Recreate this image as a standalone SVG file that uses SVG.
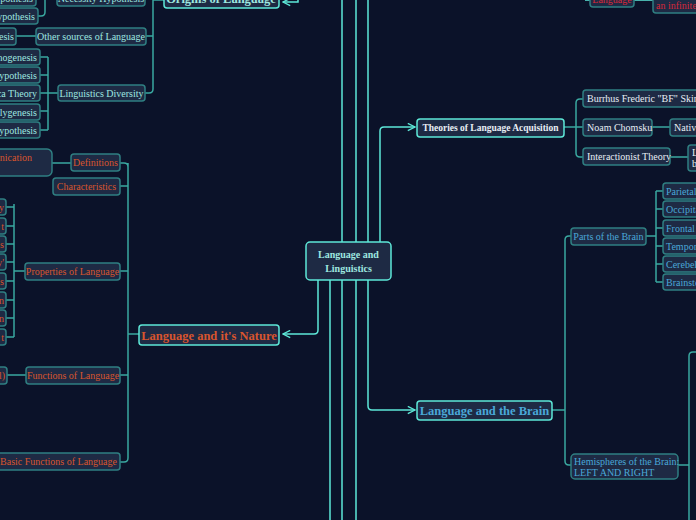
<svg xmlns="http://www.w3.org/2000/svg" width="696" height="520" viewBox="0 0 696 520">
<style>
.bg{fill:#0b1229}
.n{fill:#1e2a44;stroke:#2f7f82;stroke-width:1.5}
.m{fill:#1e2a44;stroke:#5ee8d8;stroke-width:1.5}
.c{fill:none;stroke:#5ee8d8;stroke-width:1.5}
.cd{fill:none;stroke:#3aa8a0;stroke-width:1.5}
text{font-family:"Liberation Serif",serif;font-size:10px}
text.big{font-size:12.500px;font-weight:bold}
.t{fill:#9fe8e0}
.o{fill:#d9552e}
.b{fill:#4aa8d8}
.w{fill:#e8eef5}
.r{fill:#d8283a}
</style>
<defs><marker id="a" viewBox="0 0 10 10" refX="9" refY="5" markerWidth="6" markerHeight="6" orient="auto-start-reverse"><path d="M1,1 L9,5 L1,9" fill="none" stroke="#5ee8d8" stroke-width="1.5"/></marker></defs>
<rect class="bg" width="696" height="520"/>
<g id="connectors">
<path class="c" d="M330,280V520 M342,0V242 M342,280V520 M356,0V242 M356,280V520 M368,0V242"/>
<path class="c" d="M380,242V131Q380,127 384,127H415" marker-end="url(#a)"/>
<path class="c" d="M368,280V406Q368,410 372,410H415" marker-end="url(#a)"/>
<path class="c" d="M318,280V330Q318,334 314,334H283" marker-end="url(#a)"/>
<path class="c" d="M298,0V2H283" marker-end="url(#a)"/>
<path class="cd" d="M139,334H128 M128,163V458Q128,462 124,462H120 M128,167Q128,163 124,163H120 M128,186H120 M128,271H120 M128,375H120 M52,163H71"/>
<path class="cd" d="M25,271H14 M14,204V337 M14,207H6 M14,226H6 M14,244H6 M14,262H6 M14,281H6 M14,300H6 M14,318H6 M14,337H6 M26,375H7"/>
<path class="cd" d="M164,0H153V89Q153,93 149,93H145 M153,36H146 M36,36H16 M45,0V12Q45,16 41,16H38 M58,93H48 M48,57V130 M48,57H40 M48,75H40 M48,93H40 M48,111H40 M48,130H40"/>
<path class="cd" d="M564,127H576 M576,103Q576,99 580,99H583 M576,103V153Q576,157 580,157H583 M576,127H583 M652,127H670 M670,157H688"/>
<path class="cd" d="M552,410H565 M565,240Q565,236 569,236H571 M565,240V461Q565,465 569,465H571 M646,236H656 M656,191V282 M656,191H663 M656,209H663 M656,228H663 M656,246H663 M656,264H663 M656,282H663 M678,465H689 M689,356Q689,352 693,352H696 M689,356V520"/>
<path class="c" d="M585,0H590 M634,0H653"/>
</g>
<g id="center"><rect class="m" x="306" y="242" width="85" height="38" rx="4"/><text class="t" x="348.500" y="258" text-anchor="middle" font-weight="bold">Language and</text><text class="t" x="348.500" y="272" text-anchor="middle" font-weight="bold">Linguistics</text></g>
<g id="origins"><rect class="m" x="164" y="-10" width="115" height="18" rx="3"/><text class="t big" x="221" y="3" text-anchor="middle">Origins of Language</text></g>
<g id="necessity"><rect class="n" x="57" y="-10" width="88" height="16" rx="3"/><text class="t" x="101" y="2" text-anchor="middle">Necessity Hypothesis</text></g>
<g id="n1"><rect class="n" x="-5" y="-10" width="41" height="16" rx="3"/><text class="t" x="33" y="2" text-anchor="end">ypothesis</text></g>
<g id="n2"><rect class="n" x="-5" y="8" width="43" height="16" rx="3"/><text class="t" x="35" y="20" text-anchor="end">ypothesis</text></g>
<g id="other"><rect class="n" x="36" y="28" width="110" height="17" rx="3"/><text class="t" x="91" y="40" text-anchor="middle">Other sources of Language</text></g>
<g id="o1"><rect class="n" x="-5" y="28" width="21" height="17" rx="3"/><text class="t" x="14" y="40" text-anchor="end">esis</text></g>
<g id="diversity"><rect class="n" x="58" y="85" width="87" height="16" rx="3"/><text class="t" x="101.500" y="97" text-anchor="middle">Linguistics Diversity</text></g>
<g id="d1"><rect class="n" x="-5" y="49" width="45" height="16" rx="3"/><text class="t" x="37" y="61" text-anchor="end">nogenesis</text></g>
<g id="d2"><rect class="n" x="-5" y="67" width="45" height="16" rx="3"/><text class="t" x="37" y="79" text-anchor="end">ypothesis</text></g>
<g id="d3"><rect class="n" x="-5" y="85" width="45" height="16" rx="3"/><text class="t" x="37" y="97" text-anchor="end">ca Theory</text></g>
<g id="d4"><rect class="n" x="-5" y="104" width="45" height="16" rx="3"/><text class="t" x="37" y="116" text-anchor="end">lygenesis</text></g>
<g id="d5"><rect class="n" x="-5" y="122" width="45" height="16" rx="3"/><text class="t" x="37" y="134" text-anchor="end">ypothesis</text></g>
<g id="nature"><rect class="m" x="139" y="325" width="140" height="20" rx="3"/><text class="o big" x="209" y="339.500" text-anchor="middle">Language and it's Nature</text></g>
<g id="comm"><rect class="n" x="-5" y="149" width="57" height="27" rx="5"/><text class="o" x="32" y="161" text-anchor="end">unication</text></g>
<g id="definitions"><rect class="n" x="71" y="154" width="49" height="17" rx="3"/><text class="o" x="95.500" y="166" text-anchor="middle">Definitions</text></g>
<g id="characteristics"><rect class="n" x="53" y="178" width="67" height="17" rx="3"/><text class="o" x="86.500" y="190" text-anchor="middle">Characteristics</text></g>
<g id="properties"><rect class="n" x="25" y="263" width="95" height="17" rx="3"/><text class="o" x="72.500" y="275" text-anchor="middle">Properties of Language</text></g>
<g id="p1"><rect class="n" x="-5" y="199" width="11" height="16" rx="3"/><text class="o" x="4" y="211" text-anchor="end">y</text></g>
<g id="p2"><rect class="n" x="-5" y="218" width="11" height="16" rx="3"/><text class="o" x="4" y="230" text-anchor="end">t</text></g>
<g id="p3"><rect class="n" x="-5" y="236" width="11" height="16" rx="3"/><text class="o" x="4" y="248" text-anchor="end">s</text></g>
<g id="p4"><rect class="n" x="-5" y="254" width="11" height="16" rx="3"/><text class="o" x="4" y="266" text-anchor="end">y'</text></g>
<g id="p5"><rect class="n" x="-5" y="273" width="11" height="16" rx="3"/><text class="o" x="4" y="285" text-anchor="end">s</text></g>
<g id="p6"><rect class="n" x="-5" y="292" width="11" height="16" rx="3"/><text class="o" x="4" y="304" text-anchor="end">n</text></g>
<g id="p7"><rect class="n" x="-5" y="310" width="11" height="16" rx="3"/><text class="o" x="4" y="322" text-anchor="end">n</text></g>
<g id="p8"><rect class="n" x="-5" y="329" width="11" height="16" rx="3"/><text class="o" x="4" y="341" text-anchor="end">t</text></g>
<g id="functions"><rect class="n" x="26" y="367" width="94" height="17" rx="3"/><text class="o" x="73" y="379" text-anchor="middle">Functions of Language</text></g>
<g id="f1"><rect class="n" x="-5" y="367" width="12" height="17" rx="3"/><text class="o" x="5" y="379" text-anchor="end">l)</text></g>
<g id="basic"><rect class="n" x="-5" y="453" width="125" height="17" rx="3"/><text class="o" x="117" y="465" text-anchor="end">r Basic Functions of Language</text></g>
<g id="language"><rect class="n" x="590" y="-6" width="44" height="13" rx="3"/><text class="r" x="612" y="3" text-anchor="middle">Language</text></g>
<g id="infinite"><rect class="n" x="653" y="-6" width="50" height="19" rx="3"/><text class="r" x="656" y="9">an infinite</text></g>
<g id="theories"><rect class="m" x="417" y="119" width="147" height="18" rx="3"/><text class="w" x="490.500" y="131" text-anchor="middle" font-weight="bold" textLength="136" lengthAdjust="spacingAndGlyphs">Theories of Language Acquisition</text></g>
<g id="skinner"><rect class="n" x="583" y="90" width="120" height="17" rx="3"/><text class="w" x="587" y="102">Burrhus Frederic "BF" Skinner</text></g>
<g id="chomsky"><rect class="n" x="583" y="119" width="69" height="17" rx="3"/><text class="w" x="587" y="131">Noam Chomsku</text></g>
<g id="nativ"><rect class="n" x="670" y="119" width="40" height="17" rx="3"/><text class="w" x="674" y="131">Nativism</text></g>
<g id="interaction"><rect class="n" x="583" y="148" width="87" height="17" rx="3"/><text class="w" x="587" y="160">Interactionist Theory</text></g>
<g id="lb"><rect class="n" x="688" y="145" width="20" height="26" rx="3"/><text class="w" x="692" y="156">L</text><text class="w" x="692" y="167">b</text></g>
<g id="brain"><rect class="m" x="417" y="401" width="135" height="19" rx="3"/><text class="b big" x="484.500" y="415" text-anchor="middle">Language and the Brain</text></g>
<g id="parts"><rect class="n" x="571" y="228" width="75" height="17" rx="3"/><text class="b" x="608.500" y="240" text-anchor="middle">Parts of the Brain</text></g>
<g id="l1"><rect class="n" x="663" y="183" width="40" height="16" rx="3"/><text class="b" x="666" y="195">Parietal</text></g>
<g id="l2"><rect class="n" x="663" y="201" width="40" height="16" rx="3"/><text class="b" x="666" y="213">Occipital</text></g>
<g id="l3"><rect class="n" x="663" y="220" width="40" height="16" rx="3"/><text class="b" x="666" y="232">Frontal</text></g>
<g id="l4"><rect class="n" x="663" y="238" width="40" height="16" rx="3"/><text class="b" x="666" y="250">Temporal</text></g>
<g id="l5"><rect class="n" x="663" y="256" width="40" height="16" rx="3"/><text class="b" x="666" y="268">Cerebellum</text></g>
<g id="l6"><rect class="n" x="663" y="274" width="40" height="16" rx="3"/><text class="b" x="666" y="286">Brainstem</text></g>
<g id="hemi"><rect class="n" x="571" y="454" width="107" height="25" rx="4"/><text class="b" x="574" y="465">Hemispheres of the Brain:</text><text class="b" x="574" y="476">LEFT AND RIGHT</text></g>
</svg>
